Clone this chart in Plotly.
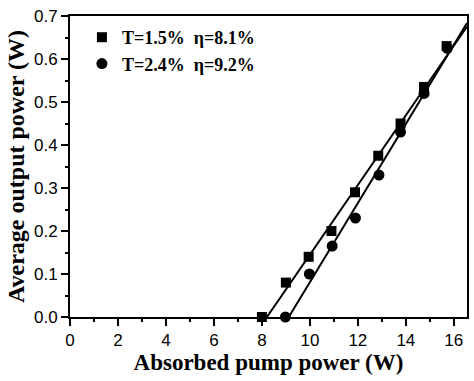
import plotly.graph_objects as go

# Data
x_sq = [8.0, 9.0, 9.95, 10.9, 11.88, 12.85, 13.78, 14.76, 15.7]
y_sq = [0.0, 0.08, 0.14, 0.20, 0.29, 0.375, 0.45, 0.535, 0.63]
x_ci = [8.98, 9.98, 10.93, 11.9, 12.88, 13.78, 14.76, 15.73]
y_ci = [0.0, 0.10, 0.165, 0.23, 0.33, 0.43, 0.52, 0.625]

names = ["<b>T=1.5%  η=8.1%</b>", "<b>T=2.4%  η=9.2%</b>"]
slopes = [0.081, 0.092]          # slope efficiencies
thresholds = [8.21, 9.12]        # threshold pump powers (W)
x_max = 16.55

x_ticks = [0, 2, 4, 6, 8, 10, 12, 14, 16]
y_ticks = [0.0, 0.1, 0.2, 0.3, 0.4, 0.5, 0.6, 0.7]

fig = go.Figure()
for th, s in zip(thresholds, slopes):
    fig.add_trace(go.Scatter(x=[th, x_max], y=[0, s * (x_max - th)], mode="lines",
                             line=dict(color="black", width=2), showlegend=False))
fig.add_trace(go.Scatter(x=x_sq, y=y_sq, mode="markers", name=names[0],
                         marker=dict(symbol="square", size=10, color="black"),
                         cliponaxis=False))
fig.add_trace(go.Scatter(x=x_ci, y=y_ci, mode="markers", name=names[1],
                         marker=dict(symbol="circle", size=11, color="black"),
                         cliponaxis=False))

axis_common = dict(showline=True, linecolor="black", linewidth=2, mirror=True,
                   showgrid=False, zeroline=False, ticks="outside", tickwidth=1.5,
                   ticklen=7, tickcolor="black", automargin=False,
                   tickfont=dict(family="Liberation Sans, Arial", size=17, color="black"))

fig.update_xaxes(range=[0, x_max], tickvals=x_ticks,
                 ticktext=[str(v) for v in x_ticks],
                 minor=dict(dtick=1, ticks="outside", ticklen=3, tickwidth=1.5, tickcolor="black"),
                 title=dict(text="<b>Absorbed pump power (W)</b>",
                            font=dict(family="Liberation Serif, Times New Roman", size=23, color="black"),
                            standoff=3),
                 **axis_common)
fig.update_yaxes(range=[0, 0.7], tickvals=y_ticks,
                 ticktext=[f"{v:.1f}" for v in y_ticks],
                 minor=dict(dtick=0.05, ticks="outside", ticklen=3, tickwidth=1.5, tickcolor="black"),
                 title=dict(text="<b>Average output power (W)</b>",
                            font=dict(family="Liberation Serif, Times New Roman", size=24, color="black"),
                            standoff=3),
                 **axis_common)

fig.update_layout(width=474, height=381, plot_bgcolor="white", paper_bgcolor="white",
                  margin=dict(l=70, r=7, t=16, b=64),
                  legend=dict(x=0.03, y=0.99, xanchor="left", yanchor="top",
                              bgcolor="rgba(0,0,0,0)", itemwidth=30, tracegroupgap=0,
                              font=dict(family="Liberation Serif, Times New Roman", size=18, color="black")))
fig.write_html("out.html", config={"displayModeBar": False},
               post_script="document.body.style.margin='0';document.body.style.overflow='hidden';")
